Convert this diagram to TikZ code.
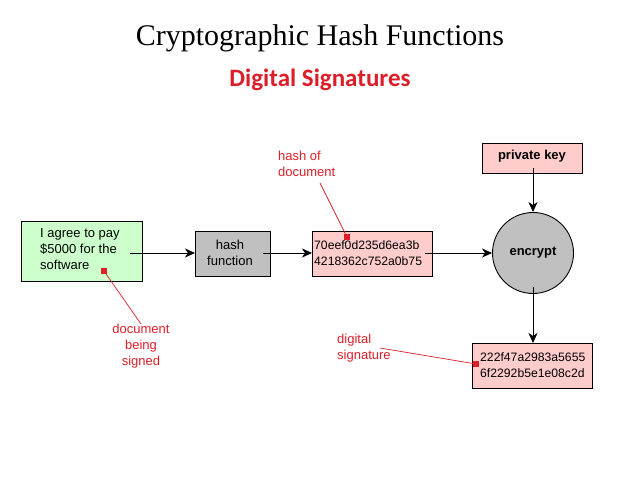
\documentclass[tikz,border=0pt]{standalone}
\usepackage{fontspec}
\setmainfont{Liberation Sans}
\newfontfamily\titlefont{Liberation Serif}
\newfontfamily\subfont{Carlito}
\usetikzlibrary{arrows.meta}
\definecolor{pinkf}{RGB}{255,204,204}
\definecolor{greenf}{RGB}{204,255,204}
\definecolor{grayf}{RGB}{192,192,192}
\definecolor{redl}{RGB}{220,30,40}
\begin{document}
\begin{tikzpicture}[x=1pt,y=-1pt,
  box/.style={draw,line width=0.9pt,inner sep=2pt,font=\fontsize{13}{16}\selectfont,align=left,anchor=north west},
  arr/.style={-{Stealth[length=10pt,width=9pt,inset=3pt]},line width=0.8pt},
  lab/.style={text=redl,font=\fontsize{13}{16}\selectfont,align=center},
  rl/.style={draw=redl,line width=0.7pt},
  hex/.style={font=\fontsize{12.2}{16}\selectfont,align=left,anchor=west,inner sep=0pt},
  sq/.style={fill=redl,minimum size=6pt,inner sep=0pt}]
\useasboundingbox (0,0) rectangle (638,478);
\node[font=\titlefont\fontsize{30}{34}\selectfont] (t) at (320,38) {Cryptographic Hash Functions};
\node[font=\subfont\bfseries\fontsize{25}{28}\selectfont,text=redl] (st) at (320,80) {Digital Signatures};
\node[box,fill=greenf,minimum width=121pt,minimum height=60pt] (doc) at (21,221) {};
\node[font=\fontsize{13}{16}\selectfont,align=left,anchor=north west,inner sep=0pt] (doct) at (40,228) {I agree to pay\\\$5000 for the\\software};
\node[box,fill=grayf,minimum width=75pt,minimum height=45pt] (hf) at (195,231) {};
\node[font=\fontsize{13}{16}\selectfont,align=center] (hft) at (230,253) {hash\\function};
\node[box,fill=pinkf,minimum width=120pt,minimum height=45pt] (hd) at (312,231) {};
\node[hex] (hdt) at (314,253) {70eef0d235d6ea3b\\4218362c752a0b75};
\node[draw,line width=0.9pt,fill=grayf,circle,minimum size=81pt,font=\bfseries\fontsize{13}{16}\selectfont] (enc) at (533,253) {encrypt};
\node[box,fill=pinkf,minimum width=100pt,minimum height=30pt] (pk) at (482,143) {};
\node[font=\bfseries\fontsize{13}{16}\selectfont] (pkt) at (532,156) {private key};
\node[box,fill=pinkf,minimum width=120pt,minimum height=45pt] (sig) at (472,343) {};
\node[hex] (sigt) at (480,365.5) {222f47a2983a5655\\6f2292b5e1e08c2d};
\coordinate (a1) at (130,253);
\coordinate (a2) at (263,253);
\coordinate (a3) at (425,253);
\coordinate (a4) at (533,168);
\coordinate (a5) at (533,287);
\draw[arr] (a1) -- (hf.west |- a1);
\draw[arr] (a2) -- (hd.west |- a2);
\draw[arr] (a3) -- (enc.west);
\draw[arr] (a4) -- (enc.north);
\draw[arr] (a5) -- (a5 |- sig.north);
\node[lab,align=left,anchor=north west,inner sep=0pt] (l1) at (278,151) {hash of\\document};
\node[sq] (s1) at (347,237) {};
\coordinate (c1) at (320,183);
\draw[rl] (c1) -- (s1);
\node[lab,anchor=north,inner sep=0pt] (l2) at (141,324) {document\\being\\signed};
\node[sq] (s2) at (104,271) {};
\draw[rl] (l2.north) -- (s2);
\node[lab,align=left,anchor=north west,inner sep=0pt] (l3) at (337,334) {digital\\signature};
\node[sq] (s3) at (476,364) {};
\coordinate (c3) at (380,348);
\draw[rl] (c3) -- (s3);
\end{tikzpicture}
\end{document}
